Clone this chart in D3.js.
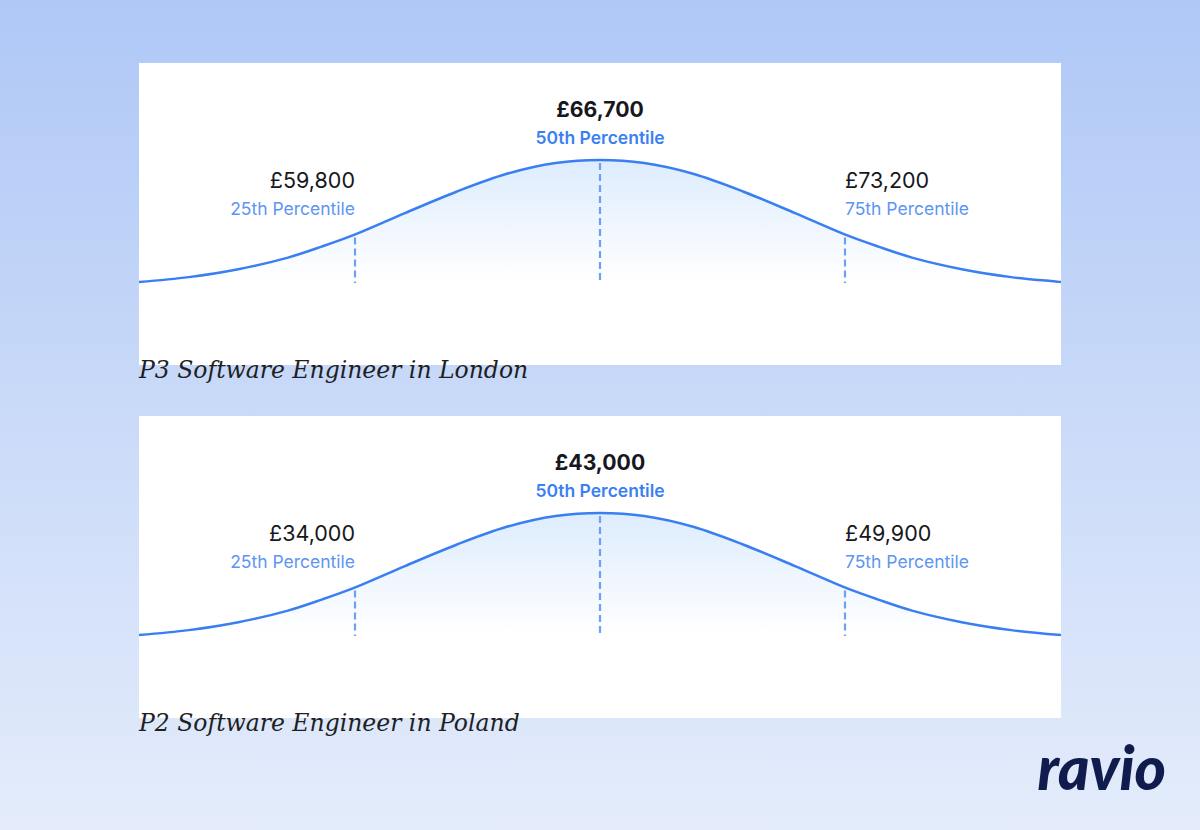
<!DOCTYPE html>
<html>
<head>
<meta charset="utf-8">
<script src="https://cdn.jsdelivr.net/npm/d3@7"></script>
<style>
  html, body { margin: 0; padding: 0; }
  body { width: 1200px; height: 830px; overflow: hidden; }
</style>
</head>
<body>
<svg id="chart"></svg>
<script>
// constants
const width = 1200;
const height = 830;

// panels: job title + salary percentiles
const titles = ['P3 Software Engineer in London', 'P2 Software Engineer in Poland'];
const percentileNames = ['25th Percentile', '50th Percentile', '75th Percentile'];
const salariesLondon = [59800, 66700, 73200];
const salariesPoland = [34000, 43000, 49900];
const panelSalaries = [salariesLondon, salariesPoland];

// where each percentile sits on the bell (in standard deviations)
const percentileZ = [-1.38, 0, 1.38];

// bell curve: z position and relative height
const curveZ = [-2.6, -2.32, -2.04, -1.76, -1.57, -1.38, -1.1, -0.81, -0.53, -0.25, 0,
                0.25, 0.53, 0.81, 1.1, 1.38, 1.57, 1.76, 2.04, 2.32, 2.6];
const curveH = [0.0, 0.04, 0.105, 0.2, 0.29, 0.39, 0.565, 0.74, 0.885, 0.975, 1.0,
                0.975, 0.885, 0.74, 0.565, 0.39, 0.29, 0.2, 0.105, 0.04, 0.0];
const curvePoints = curveZ.map((z, i) => ({ z: z, h: curveH[i] }));

const panel = { left: 139, right: 1061, top: 63, height: 302, gap: 51 };

const svg = d3.select('svg#chart').attr('width', width).attr('height', height);
const defs = svg.append('defs');

let bg = defs.append('linearGradient').attr('id', 'bg')
  .attr('x1', 0).attr('y1', 0).attr('x2', 0).attr('y2', 1);
bg.append('stop').attr('offset', '0%').attr('stop-color', '#afc8f6');
bg.append('stop').attr('offset', '100%').attr('stop-color', '#e4ecfb');

let fillGrad = defs.append('linearGradient').attr('id', 'areaFill')
  .attr('x1', 0).attr('y1', 0).attr('x2', 0).attr('y2', 1);
fillGrad.append('stop').attr('offset', '0%').attr('stop-color', '#ddecfd');
fillGrad.append('stop').attr('offset', '100%').attr('stop-color', '#ffffff');

svg.append('rect').attr('width', width).attr('height', height).attr('fill', 'url(#bg)');

const xScale = d3.scaleLinear().domain([-2.6, 2.6]).range([panel.left, panel.right]);
const fmt = v => '£' + d3.format(',')(v);
const smooth = d3.curveCatmullRom.alpha(0.5);

titles.forEach((title, i) => {
  const top = panel.top + i * (panel.height + panel.gap);
  const g = svg.append('g');

  g.append('rect')
    .attr('x', panel.left).attr('y', top)
    .attr('width', panel.right - panel.left).attr('height', panel.height)
    .attr('fill', '#ffffff');

  const yScale = d3.scaleLinear().domain([0, 1]).range([top + 219, top + 97]);

  const area = d3.area()
    .x(d => xScale(d.z)).y0(yScale(0)).y1(d => yScale(d.h))
    .curve(smooth);
  const line = d3.line()
    .x(d => xScale(d.z)).y(d => yScale(d.h))
    .curve(smooth);

  g.append('path').datum(curvePoints).attr('d', area).attr('fill', 'url(#areaFill)');

  const path = g.append('path').datum(curvePoints).attr('d', line)
    .attr('fill', 'none').attr('stroke', '#3a7ff2').attr('stroke-width', 2.5);

  // height of the bell at each percentile, taken from the drawn path
  const pathNode = path.node();
  const total = pathNode.getTotalLength();
  const yAt = x => {
    let lo = 0, hi = total;
    for (let k = 0; k < 40; k++) {
      const mid = (lo + hi) / 2;
      if (pathNode.getPointAtLength(mid).x < x) lo = mid; else hi = mid;
    }
    return pathNode.getPointAtLength(lo).y;
  };

  percentileZ.forEach((z, j) => {
    const x = Math.round(xScale(z));
    g.append('line')
      .attr('x1', x).attr('x2', x)
      .attr('y1', yAt(x) + 3).attr('y2', yScale(0) + 1)
      .attr('stroke', '#6e9ff6').attr('stroke-width', 2.2)
      .attr('stroke-dasharray', '7,4');

    const mid = j === 1;
    const anchor = mid ? 'middle' : (j === 0 ? 'end' : 'start');
    const valueY = mid ? top + 54 : top + 125;

    g.append('text')
      .attr('x', x).attr('y', valueY)
      .attr('text-anchor', anchor)
      .attr('font-family', 'Inter, sans-serif')
      .attr('font-size', mid ? 21.2 : 21.5)
      .attr('font-weight', mid ? 700 : 400)
      .attr('fill', '#16181d')
      .text(fmt(panelSalaries[i][j]));

    g.append('text')
      .attr('x', x).attr('y', valueY + 27)
      .attr('text-anchor', anchor)
      .attr('font-family', 'Inter, sans-serif')
      .attr('font-size', 17.5)
      .attr('font-weight', mid ? 600 : 400)
      .attr('fill', mid ? '#3b80f3' : '#5d95f4')
      .text(percentileNames[j]);
  });

  g.append('text')
    .attr('x', panel.left).attr('y', top + panel.height + 13)
    .attr('font-family', '"DejaVu Serif", serif')
    .attr('font-style', 'italic')
    .attr('font-size', 23.5)
    .attr('fill', '#1e1f24')
    .text(title);
});

// logo
svg.append('text')
  .attr('x', 1166).attr('y', 790)
  .attr('text-anchor', 'end')
  .attr('font-family', 'Lato, sans-serif')
  .attr('font-weight', 900)
  .attr('font-style', 'italic')
  .attr('font-size', 60)
  .attr('fill', '#0f1c4d')
  .text('ravio');
</script>
</body>
</html>
